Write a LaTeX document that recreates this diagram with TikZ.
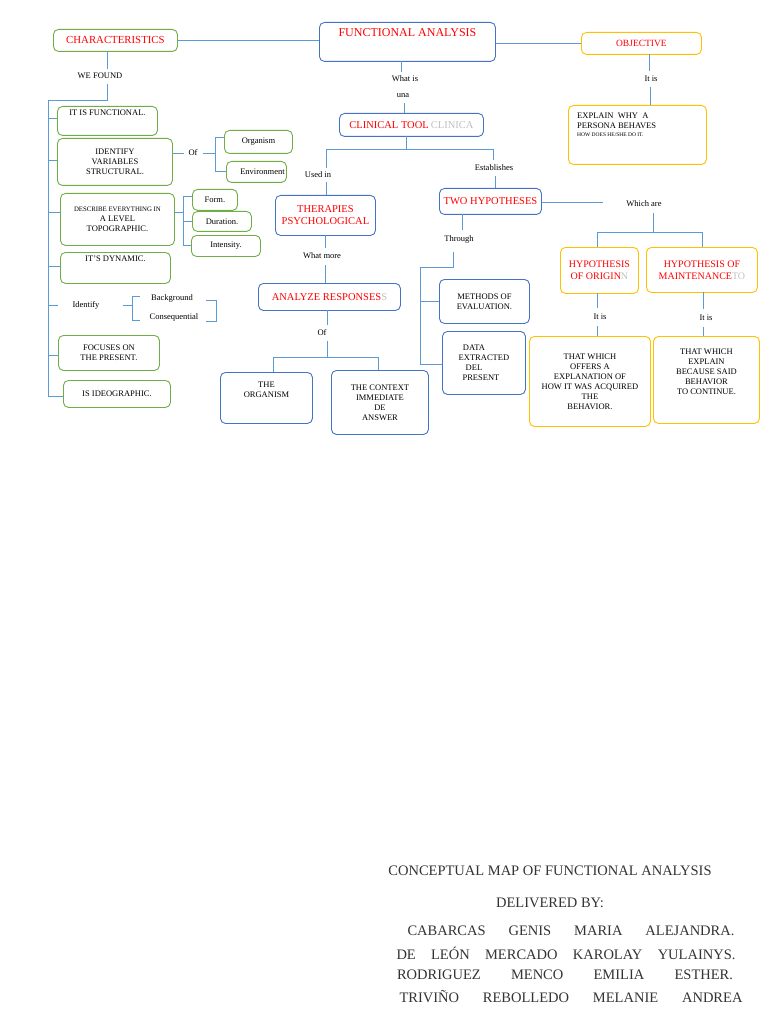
\documentclass[tikz,border=0pt]{standalone}
\usepackage{fontspec}
\setmainfont{Liberation Serif}
\definecolor{gbox}{HTML}{70AD47}
\definecolor{bbox}{HTML}{4472C4}
\definecolor{ybox}{HTML}{FFC000}
\definecolor{ln}{HTML}{5B9BD5}
\definecolor{rd}{HTML}{FF0000}
\definecolor{tx}{HTML}{333333}
\begin{document}
\begin{tikzpicture}[x=1pt,y=-1pt,
  bx/.style={draw,rounded corners=5pt,line width=0.9pt,inner sep=1pt,font=\fontsize{8.5}{10}\selectfont,align=center},
  gb/.style={bx,draw=gbox},
  bb/.style={bx,draw=bbox},
  yb/.style={bx,draw=ybox},
  lab/.style={font=\fontsize{8.5}{10}\selectfont,inner sep=1pt},
  c/.style={draw=ln,line width=0.7pt},
  nm/.style={font=\fontsize{14.5}{15}\selectfont,text=tx,align=justify,inner sep=0}]
\useasboundingbox (0,0) rectangle (768,1024);
\newcommand\bxat[5]{\node[#1,minimum width=#4-#2,minimum height=#5-#3,anchor=north west] at (#2,#3)}
\newcommand\R[2]{\textcolor{rd}{\fontsize{#1}{12}\selectfont #2}}
\newcommand\G[2]{\textcolor{gray!50}{\fontsize{#1}{12}\selectfont #2}}
% top level
\bxat{gb}{53}{29}{177}{51} (ch) {\R{10.8}{CHARACTERISTICS}};
\bxat{bb}{319}{22}{495}{61} (fa) {\R{12}{FUNCTIONAL ANALYSIS}\\[8pt]};
\bxat{yb}{581}{32}{701}{54} (ob) {\R{9.5}{OBJECTIVE}};
\draw[c] (ch.east) -- (fa.west|-ch.east);
\draw[c] (fa.east|-ob.west) -- (ob.west);
% objective
\node[lab] (itis0) at (651,79) {It is};
\bxat{yb}{568}{105}{706}{164} (ex) {};
\node[lab,anchor=north west,align=left] at (576,112) {EXPLAIN\ \ WHY\ \ A\\PERSONA BEHAVES\\[-2pt]{\fontsize{5.5}{6}\selectfont HOW DOES HE/SHE DO IT.}};
\draw[c] (649,54) -- (649,71);
\draw[c] (650,87) -- (650,105);
% clinical tool
\node[lab] (wi) at (405,79) {What is};
\node[lab] (una) at (403,96) {una};
\bxat{bb}{339}{113}{483}{136} (ct) {\R{10.5}{CLINICAL TOOL} \G{10.5}{CLINICA}};
\draw[c] (401,61) -- (401,72);
\draw[c] (404,103) -- (404,113);
\draw[c] (406,136) -- (406,149);
\draw[c] (326,168) -- (326,149) -- (493,149) -- (493,160);
\node[lab] (usedin) at (318,175) {Used in};
\node[lab] (est) at (494,168) {Establishes};
\bxat{bb}{275}{195}{375}{235} (th) {\R{10.5}{THERAPIES}\\[2pt]\R{10.5}{PSYCHOLOGICAL}};
\draw[c] (326,182) -- (326,195);
\bxat{bb}{439}{188}{541}{214} (two) {\R{10.5}{TWO HYPOTHESES}};
\draw[c] (495,176) -- (495,188);
\node[lab] (wm) at (322,256) {What more};
\draw[c] (325,235) -- (325,248);
\draw[c] (325,265) -- (325,283);
\bxat{bb}{258}{283}{400}{310} (an) {\R{10.5}{ANALYZE RESPONSES}\G{10.5}{S}};
\node[lab] (of2) at (322,333) {Of};
\draw[c] (327,310) -- (327,325);
\draw[c] (327,341) -- (327,357);
\draw[c] (273,372) -- (273,357) -- (378,357) -- (378,370);
\bxat{bb}{220}{372}{312}{423} (org) {THE\\ORGANISM\\[6pt]};
\bxat{bb}{331}{370}{428}{434} (ctx) {THE CONTEXT\\IMMEDIATE\\DE\\ANSWER};
% hypotheses
\node[lab] (wa) at (644,204) {Which are};
\draw[c] (two.east|-0,202) -- (603,202);
\draw[c] (653,213) -- (653,232);
\draw[c] (597,247) -- (597,232) -- (702,232) -- (702,247);
\bxat{yb}{560}{247}{638}{293} (ho) {\R{10}{HYPOTHESIS}\\[2pt]\R{10}{OF ORIGIN}\G{10}{N}};
\bxat{yb}{646}{247}{757}{292} (hm) {\R{10}{HYPOTHESIS OF}\\[2pt]\R{10}{MAINTENANCE}\G{10}{TO}};
\node[lab] (itis1) at (600,317) {It is};
\node[lab] (itis2) at (706,318) {It is};
\draw[c] (597,293) -- (597,308); \draw[c] (597,326) -- (597,336);
\draw[c] (703,292) -- (703,309); \draw[c] (703,327) -- (703,336);
\bxat{yb}{529}{336}{650}{426} (tw1) {THAT WHICH\\OFFERS A\\EXPLANATION OF\\HOW IT WAS ACQUIRED\\THE\\BEHAVIOR.};
\bxat{yb}{653}{336}{759}{423} (tw2) {THAT WHICH\\EXPLAIN\\BECAUSE SAID\\BEHAVIOR\\TO CONTINUE.\\[6pt]};
% through
\node[lab] (thr) at (459,239) {Through};
\draw[c] (462,214) -- (462,230);
\draw[c] (453,252) -- (453,267) -- (420,267) -- (420,364) -- (442,364);
\draw[c] (420,301) -- (439,301);
\bxat{bb}{439}{279}{529}{323} (me) {METHODS OF\\EVALUATION.};
\bxat{bb}{442}{331}{525}{394} (da) {\hspace*{-20pt}DATA\\EXTRACTED\\\hspace*{-20pt}DEL\\\hspace*{-6pt}PRESENT};
% characteristics
\node[lab] (wf) at (100,76) {WE FOUND};
\draw[c] (107,51) -- (107,69);
\draw[c] (107,84) -- (107,100) -- (48,100) -- (48,396) -- (63,396);
\bxat{gb}{57}{106}{157}{135} (f1) {IT IS FUNCTIONAL.\\[6pt]};
\bxat{gb}{57}{138}{172}{185} (f2) {IDENTIFY\\VARIABLES\\STRUCTURAL.};
\bxat{gb}{60}{193}{174}{245} (f3) {{\fontsize{6.8}{8}\selectfont DESCRIBE EVERYTHING IN}\\A LEVEL\\TOPOGRAPHIC.};
\bxat{gb}{60}{252}{170}{283} (f4) {IT'S DYNAMIC.\\[8pt]};
\node[lab] (idf) at (86,305) {Identify};
\bxat{gb}{58}{335}{159}{370} (f5) {FOCUSES ON\\THE PRESENT.};
\bxat{gb}{63}{380}{170}{407} (f6) {IS IDEOGRAPHIC.};
\draw[c] (48,118) -- (57,118);
\draw[c] (48,160) -- (57,160);
\draw[c] (48,212) -- (60,212);
\draw[c] (48,266) -- (60,266);
\draw[c] (48,305) -- (58,305);
\draw[c] (48,355) -- (58,355);
\node[lab] (of1) at (193,153) {Of};
\draw[c] (172,153) -- (184,153);
\draw[c] (203,153) -- (215,153);
\draw[c] (224,137) -- (215,137) -- (215,171) -- (226,171);
\bxat{gb}{224}{130}{292}{153} (org2) {Organism};
\bxat{gb}{226}{161}{286}{182} (env) {\hspace*{12pt}Environment};
\draw[c] (174,212) -- (183,212);
\draw[c] (192,196) -- (183,196) -- (183,245) -- (191,245);
\draw[c] (183,221) -- (192,221);
\bxat{gb}{192}{189}{237}{210} (fo) {Form.};
\bxat{gb}{192}{211}{251}{231} (du) {Duration.};
\bxat{gb}{191}{235}{260}{256} (in) {Intensity.};
\draw[c] (123,305) -- (132,305);
\draw[c] (140,296) -- (132,296) -- (132,320) -- (140,320);
\draw[c] (206,300) -- (216,300) -- (216,321) -- (206,321);
\node[lab] (bg) at (172,298) {Background};
\node[lab] (cq) at (174,317) {Consequential};
% bottom text
\node[font=\fontsize{14.5}{15}\selectfont,text=tx] (t1) at (550,871) {CONCEPTUAL MAP OF FUNCTIONAL ANALYSIS};
\node[font=\fontsize{14.5}{15}\selectfont,text=tx] (t2) at (550,903) {DELIVERED BY:};
\node[nm,text width=327pt] (n1) at (571,931) {CABARCAS\hfill GENIS\hfill MARIA\hfill ALEJANDRA.};
\node[nm,text width=339pt] (n2) at (566,953) {DE\hfill LEÓN\hfill MERCADO\hfill KAROLAY\hfill YULAINYS.};
\node[nm,text width=336pt] (n3) at (565,975) {RODRIGUEZ\hfill MENCO\hfill EMILIA\hfill ESTHER.};
\node[nm,text width=343pt] (n4) at (571,997) {TRIVIÑO\hfill REBOLLEDO\hfill MELANIE\hfill ANDREA};
\end{tikzpicture}
\end{document}
